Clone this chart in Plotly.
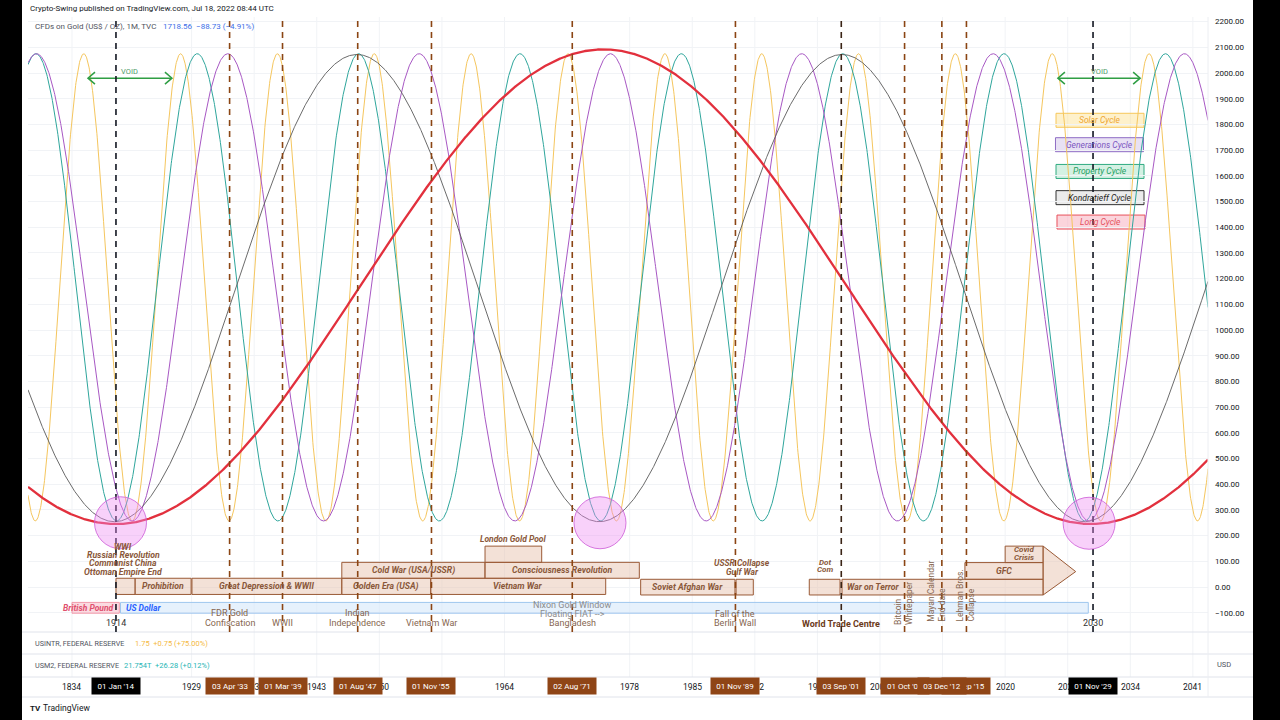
import numpy as np
import plotly.graph_objects as go

W, H = 1280, 720
FONT = "Roboto, 'Open Sans', sans-serif"

# ---------------- time axis model (TradingView bar spacing, sparse bars before 1929) -------------
AXIS_KNOT_YEARS = [1834.0, 1914.0, 1929.0]
AXIS_KNOT_POS = [1915.62, 1920.54, 1929.0]
X_RANGE = [1910.70, 2042.69]
PRICE_RANGE = [-175.1, 2217.9]
PRICE_TICKS = list(range(-100, 2201, 100))

# ---------------- cycles ----------------
cycle_names = ["Solar Cycle", "Property Cycle", "Generations Cycle", "Kondratieff Cycle", "Long Cycle"]
cycle_period = [10.833, 18.05, 21.40, 54.25, 109.06]
cycle_peak = [1971.10, 2001.83, 1975.85, 2001.75, 1975.07]
cycle_low = [257, 257, 257, 254, 245]
cycle_high = [2075, 2075, 2075, 2072, 2092]
cycle_colors = ["#f5c65e", "#2fa69c", "#a858c4", "#5a5a5a", "#e2303d"]
cycle_widths = [1.0, 1.0, 1.0, 0.9, 2.3]

# ---------------- vertical event lines ----------------
line_dates = [1914.0, 1933.25, 1939.17, 1947.58, 1955.83, 1971.58, 1989.83, 2001.67, 2008.75, 2015.67, 2012.92, 2029.83]
line_tags = ["01 Jan '14", "03 Apr '33", "01 Mar '39", "01 Aug '47", "01 Nov '55", "02 Aug '71",
             "01 Nov '89", "03 Sep '01", "01 Oct '08", "01 Sep '15", "03 Dec '12", "01 Nov '29"]
line_colors = ["#131722", "#8b4513", "#8b4513", "#8b4513", "#8b4513", "#8b4513",
               "#8b4513", "#3a2415", "#8b4513", "#8b4513", "#8b4513", "#131722"]
tag_colors = ["#000000", "#8f4516", "#8f4516", "#8f4516", "#8f4516", "#8f4516",
              "#8f4516", "#8f4516", "#8f4516", "#8f4516", "#8f4516", "#000000"]

# ---------------- time axis tick labels ----------------
tick_years = [1834, 1929, 1936, 1943, 1950, 1957, 1964, 1978, 1985, 1992, 1999, 2006, 2013, 2020, 2027, 2034, 2041]

# ---------------- labels at the event lines ----------------
lbl_text = ["1914", "FDR Gold", "Confiscation", "WWII", "Indian", "Independence", "Vietnam War",
            "Nixon Gold Window", "Floating FIAT -->", "Bangladesh", "Fall of the", "Berlin Wall",
            "<b>World Trade Centre</b>", "2030"]
lbl_date = [1914.0, 1933.25, 1933.25, 1939.17, 1947.58, 1947.58, 1955.83,
            1971.58, 1971.58, 1971.58, 1989.83, 1989.83, 2001.67, 2029.83]
lbl_value = [-139, -100, -139, -139, -100, -139, -141, -69, -106, -141, -105, -141, -143, -141]
lbl_color = ["#333333", "#86664f", "#86664f", "#86664f", "#86664f", "#86664f", "#86664f",
             "#8c8c8c", "#8c8c8c", "#86664f", "#86664f", "#86664f", "#6b3a1a", "#333333"]

rot_text = ["Bitcoin<br>Whitepaper", "Mayan Calendar<br>End date", "Lehman Bros.<br>Collapse"]
rot_date = [2008.63, 2012.38, 2015.57]
rot_value = [-64, -18, -35]

# ---------------- period boxes ----------------
box_text = ["", "Prohibition", "Great Depression & WWII", "Golden Era (USA)", "Vietnam War",
            "Cold War (USA/USSR)", "Consciousness Revolution", "", "Soviet Afghan War", "",
            "", "War on Terror", "GFC", ""]
box_start = [1914.0, 1917.8, 1929.04, 1945.8, 1955.75, 1945.8, 1961.82, 1961.82, 1979.23, 1989.9,
             1998.09, 2001.75, 2015.5, 2020.0]
box_end = [1917.8, 1928.9, 1945.8, 1955.75, 1975.32, 1961.82, 1979.08, 1968.16, 1989.78, 1991.83,
           2001.53, 2024.25, 2024.25, 2024.25]
box_low = [-29, -29, -29, -29, -29, 34, 34, 96, -31, -31, -31, -31, 30, 95]
box_high = [34, 34, 34, 34, 34, 96, 96, 159, 30, 30, 30, 30, 95, 159]
box_align = ["center"] * 11 + ["left", "center", "center"]
arrow_head = dict(base=2024.25, tip=2027.89, top=159, bottom=-31, mid=60)

free_text = ["WWI", "Russian Revolution", "Communist China", "Ottoman Empire End", "London Gold Pool",
             "USSR Collapse", "Gulf War", "Dot", "Com", "Covid", "Crisis"]
free_date = [1915.4, 1915.4, 1915.4, 1915.4, 1965.0, 1990.6, 1990.6, 1999.8, 1999.8, 2022.1, 2022.1]
free_value = [157, 125, 92, 60, 187, 92, 60, 97, 68, 145, 113]
free_size = [8.7, 8.7, 8.7, 8.7, 8.5, 8.5, 8.5, 8, 8, 8, 8]

# ---------------- currency boxes ----------------
cur_text = ["British Pound", "US Dollar"]
cur_start = [1834.0, 1914.9]
cur_end = [1914.66, 2029.3]
cur_low = [-102, -102]
cur_high = [-60, -60]

# ---------------- VOID markers / circles ----------------
void_start = [1863.1, 2025.9]
void_end = [1925.1, 2035.1]
void_value = 1980
void_label_value = 2006
circle_dates = [1914.9, 1974.68, 2029.39]
circle_values = [250, 250, 248]

# ---------------- legend boxes ----------------
leg_text = ["Solar Cycle", "Generations Cycle", "Property Cycle", "Kondratieff Cycle", "Long Cycle"]
leg_date = [2030.61, 2030.55, 2030.61, 2030.61, 2030.72]
leg_value = [1816, 1721, 1617, 1515, 1420]
leg_fill = ["rgba(253,224,140,0.45)", "rgba(209,196,233,0.5)", "rgba(170,228,200,0.5)",
            "rgba(210,210,210,0.45)", "rgba(248,170,185,0.5)"]
leg_line = ["#f6c75a", "#8e6cc4", "#2eaa80", "#333333", "#e8505b"]
leg_font = ["#eea531", "#7b55c0", "#1e9e62", "#1e1e1e", "#e4505c"]


def tpos(year):
    y = float(year)
    if y >= 1929.0:
        return y
    if y >= 1834.0:
        return float(np.interp(y, AXIS_KNOT_YEARS, AXIS_KNOT_POS))
    s = (AXIS_KNOT_POS[1] - AXIS_KNOT_POS[0]) / (AXIS_KNOT_YEARS[1] - AXIS_KNOT_YEARS[0])
    return AXIS_KNOT_POS[0] + (y - 1834.0) * s


def px(x):
    return x / W


def py(y):
    return 1 - y / H


MAIN_TOP, MAIN_BOTTOM = 17, 632
PLOT_L, PLOT_R = 28, 1208
PX_PER_U = (PLOT_R - PLOT_L) / (X_RANGE[1] - X_RANGE[0])
PX_PER_V = (MAIN_BOTTOM - MAIN_TOP) / (PRICE_RANGE[1] - PRICE_RANGE[0])

fig = go.Figure()
shapes = []
anns = []


def ann(x, y, text, size=8.5, color="#8b5a3c", xref="x", yref="y", xanchor="center",
        yanchor="middle", **kw):
    d = dict(x=x, y=y, xref=xref, yref=yref, text=text, showarrow=False,
             font=dict(family=FONT, size=size, color=color), xanchor=xanchor, yanchor=yanchor)
    d.update(kw)
    anns.append(d)


# grid lines (vertical) across main pane and lower panes
for ty in tick_years:
    shapes.append(dict(type="line", xref="x", yref="paper", x0=tpos(ty), x1=tpos(ty),
                       y0=py(677), y1=py(MAIN_TOP), line=dict(color="#f1f3f6", width=1), layer="below"))

# pane separators
for yy in [632, 654, 677, 697]:
    shapes.append(dict(type="line", xref="paper", yref="paper", x0=px(22), x1=px(1253),
                       y0=py(yy), y1=py(yy), line=dict(color="#e0e3eb", width=1)))
shapes.append(dict(type="line", xref="paper", yref="paper", x0=px(PLOT_R), x1=px(PLOT_R),
                   y0=py(697), y1=py(MAIN_TOP), line=dict(color="#eceef2", width=1)))

# cycles
ugrid = np.linspace(X_RANGE[0], X_RANGE[1], 3000)
for i in range(len(cycle_names)):
    mid = (cycle_low[i] + cycle_high[i]) / 2
    amp = (cycle_high[i] - cycle_low[i]) / 2
    vals = mid + amp * np.cos(2 * np.pi * (ugrid - cycle_peak[i]) / cycle_period[i])
    fig.add_trace(go.Scatter(x=ugrid, y=vals, mode="lines", name=cycle_names[i],
                             line=dict(color=cycle_colors[i], width=cycle_widths[i]),
                             hoverinfo="skip", showlegend=False))

# event boxes
BOX_FILL = "rgba(232,196,176,0.5)"
BOX_LINE = "#9a5a36"
BOX_TXT = "#8a583a"
for i in range(len(box_start)):
    shapes.append(dict(type="rect", xref="x", yref="y", x0=tpos(box_start[i]), x1=tpos(box_end[i]),
                       y0=box_low[i], y1=box_high[i], fillcolor=BOX_FILL,
                       line=dict(color=BOX_LINE, width=1), layer="above"))
    if box_text[i]:
        if box_align[i] == "left":
            ann(tpos(box_start[i]) + 3 / PX_PER_U, (box_low[i] + box_high[i]) / 2,
                "<b><i>" + box_text[i] + "</i></b>", size=8.7, color=BOX_TXT, xanchor="left")
        else:
            ann((tpos(box_start[i]) + tpos(box_end[i])) / 2, (box_low[i] + box_high[i]) / 2,
                "<b><i>" + box_text[i] + "</i></b>", size=8.7, color=BOX_TXT)
ah = arrow_head
shapes.append(dict(type="path", xref="x", yref="y",
                   path=f"M {ah['base']},{ah['top']} L {ah['tip']},{ah['mid']} L {ah['base']},{ah['bottom']} Z",
                   fillcolor=BOX_FILL, line=dict(color=BOX_LINE, width=1), layer="above"))
for t, d, v, s in zip(free_text, free_date, free_value, free_size):
    ann(tpos(d), v, "<b><i>" + t + "</i></b>", size=s, color=BOX_TXT)

# currency boxes
cur_fill = ["rgba(248,187,200,0.55)", "rgba(214,232,250,0.6)"]
cur_line = ["#f19aab", "#9fc6ee"]
cur_font = ["#e0506e", "#2962ff"]
for i in range(2):
    shapes.append(dict(type="rect", xref="x", yref="y", x0=max(tpos(cur_start[i]), X_RANGE[0]),
                       x1=tpos(cur_end[i]), y0=cur_low[i], y1=cur_high[i], fillcolor=cur_fill[i],
                       line=dict(color=cur_line[i], width=1), layer="above"))
ann(tpos(cur_end[0]) - 3 / PX_PER_U, (cur_low[0] + cur_high[0]) / 2, "<i><b>British Pound</b></i>",
    size=8.5, color=cur_font[0], xanchor="right")
ann(tpos(cur_start[1]) + 3 / PX_PER_U, (cur_low[1] + cur_high[1]) / 2, "<i><b>US Dollar</b></i>",
    size=8.5, color=cur_font[1], xanchor="left")

# dashed event lines
for d, c in zip(line_dates, line_colors):
    shapes.append(dict(type="line", xref="x", yref="paper", x0=tpos(d), x1=tpos(d),
                       y0=py(MAIN_BOTTOM), y1=py(MAIN_TOP), line=dict(color=c, width=1.6, dash="6px,5px"),
                       layer="above"))

# labels at lines
for t, d, v, c in zip(lbl_text, lbl_date, lbl_value, lbl_color):
    ann(tpos(d), v, t, size=9, color=c)
for t, d, v in zip(rot_text, rot_date, rot_value):
    ann(tpos(d), v, t, size=8.5, color="#86664f", textangle=-90, align="left")

# circles
for d, v in zip(circle_dates, circle_values):
    shapes.append(dict(type="circle", xref="x", yref="y", xsizemode="pixel", ysizemode="pixel",
                       xanchor=tpos(d), yanchor=v, x0=-26, x1=26, y0=-26, y1=26,
                       fillcolor="rgba(238,140,242,0.40)", line=dict(color="rgba(205,90,215,0.8)", width=1),
                       layer="above"))

# VOID arrows
GREEN = "#2f9e44"
dxu = 7 / PX_PER_U
dyv = 6 / PX_PER_V
for s, e in zip(void_start, void_end):
    xs, xe = tpos(s), tpos(e)
    fig.add_trace(go.Scatter(x=[xs, xe], y=[void_value, void_value], mode="lines",
                             line=dict(color=GREEN, width=1.5), hoverinfo="skip", showlegend=False))
    fig.add_trace(go.Scatter(x=[xs + dxu, xs, xs + dxu], y=[void_value + dyv, void_value, void_value - dyv],
                             mode="lines", line=dict(color=GREEN, width=1.5), hoverinfo="skip", showlegend=False))
    fig.add_trace(go.Scatter(x=[xe - dxu, xe, xe - dxu], y=[void_value + dyv, void_value, void_value - dyv],
                             mode="lines", line=dict(color=GREEN, width=1.5), hoverinfo="skip", showlegend=False))
    ann((xs + xe) / 2, void_label_value, "VOID", size=7.5, color="#4f9a68")

# legend boxes
for t, d, v, f, l, c in zip(leg_text, leg_date, leg_value, leg_fill, leg_line, leg_font):
    shapes.append(dict(type="rect", xref="x", yref="y", xsizemode="pixel", ysizemode="pixel",
                       xanchor=d, yanchor=v, x0=-44, x1=44, y0=-7, y1=7, fillcolor=f,
                       line=dict(color=l, width=1), layer="below"))
    ann(d, v, "<i>" + t + "</i>", size=8.5, color=c)

# header
ann(px(28), py(9), "Crypto-Swing published on TradingView.com, Jul 18, 2022 08:44 UTC", size=8,
    color="#131722", xref="paper", yref="paper", xanchor="left")
ann(px(33), py(27), "CFDs on Gold (US$ / OZ), 1M, TVC", size=8, color="#50535e",
    xref="paper", yref="paper", xanchor="left")
ann(px(161), py(27), "1718.56  \u221288.73 (\u22124.91%)", size=8, color="#3d6fe8",
    xref="paper", yref="paper", xanchor="left")

# lower panes
ann(px(33), py(643), "USINTR, FEDERAL RESERVE", size=7.2, color="#50535e", xref="paper", yref="paper",
    xanchor="left")
ann(px(133), py(643), "1.75  +0.75 (+75.00%)", size=7.5, color="#f5b941", xref="paper", yref="paper",
    xanchor="left")
ann(px(33), py(665), "USM2, FEDERAL RESERVE", size=7.2, color="#50535e", xref="paper", yref="paper",
    xanchor="left")
ann(px(122), py(665), "21.754T  +26.28 (+0.12%)", size=7.5, color="#26b5b5", xref="paper", yref="paper",
    xanchor="left")
ann(px(1215), py(664), "USD", size=7.5, color="#50535e", xref="paper", yref="paper", xanchor="left")

# time axis labels
for ty in tick_years:
    ann(tpos(ty), py(687), str(ty), size=8.5, color="#131722", yref="paper")
for d, t, c in zip(line_dates, line_tags, tag_colors):
    ann(tpos(d), py(686), t, size=8, color="#ffffff", yref="paper", bgcolor=c, width=46, height=14,
        borderpad=1)

# TradingView logo
ann(px(28), py(708), "<b>TV</b>", size=8, color="#131722", xref="paper", yref="paper", xanchor="left")
ann(px(41), py(708), "TradingView", size=8.5, color="#131722", xref="paper", yref="paper", xanchor="left")

# black letterbox
shapes.append(dict(type="rect", xref="paper", yref="paper", x0=0, x1=px(22), y0=0, y1=1,
                   fillcolor="#000000", line=dict(width=0), layer="above"))
shapes.append(dict(type="rect", xref="paper", yref="paper", x0=px(1253), x1=1, y0=0, y1=1,
                   fillcolor="#000000", line=dict(width=0), layer="above"))

fig.update_layout(
    width=W, height=H, autosize=False, margin=dict(l=0, r=0, t=0, b=0),
    paper_bgcolor="#ffffff", plot_bgcolor="#ffffff", showlegend=False,
    xaxis=dict(domain=[px(PLOT_L), px(PLOT_R)], range=X_RANGE, showgrid=False, zeroline=False,
               showticklabels=False, showline=False, fixedrange=True),
    yaxis=dict(domain=[py(MAIN_BOTTOM), py(MAIN_TOP)], range=PRICE_RANGE, side="right",
               tickvals=PRICE_TICKS, tickformat=".2f", showgrid=True, gridcolor="#f1f3f6",
               zeroline=False, ticks="", ticklabelstandoff=6, showline=False,
               tickfont=dict(family=FONT, size=8, color="#131722"), fixedrange=True),
    shapes=shapes, annotations=anns,
)

fig.write_html("out.html")
